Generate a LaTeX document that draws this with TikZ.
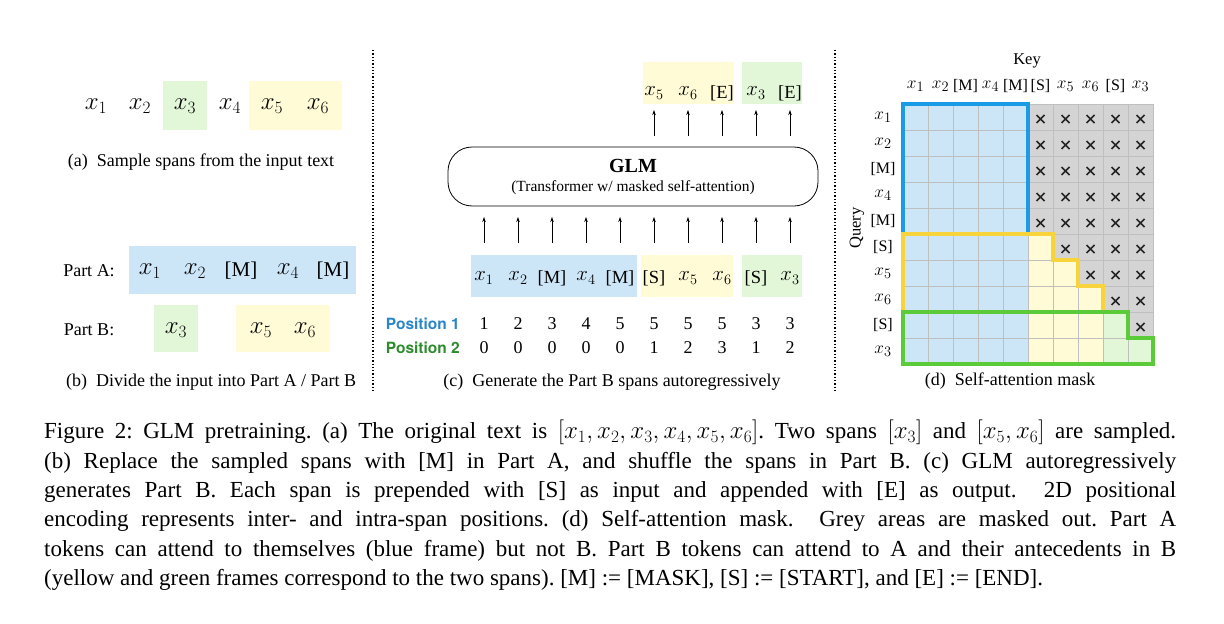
\documentclass[tikz,border=0pt]{standalone}
\usepackage{amsmath}
\usepackage{fontspec}
\setmainfont{Liberation Serif}
\newfontfamily\possans{TeX Gyre Heros}
\usetikzlibrary{arrows.meta}
\DeclareMathSizes{21}{25}{17.5}{14}
\DeclareMathSizes{18.5}{22}{15.5}{12}
\DeclareMathSizes{16}{19}{13.5}{11}
\DeclareMathSizes{23}{26}{18.5}{14}
\definecolor{bfill}{HTML}{CCE6F8}
\definecolor{yfill}{HTML}{FFFBD6}
\definecolor{gfill}{HTML}{E2F7D8}
\definecolor{grey}{HTML}{D4D4D4}
\definecolor{bframe}{HTML}{1A9BE6}
\definecolor{yframe}{HTML}{F7D43C}
\definecolor{gframe}{HTML}{5CCB3A}
\definecolor{pos1}{HTML}{2A86C8}
\definecolor{pos2}{HTML}{2E8B2E}
\tikzset{
 tok/.style={font=\fontsize{21}{24}\selectfont, inner sep=0pt, anchor=center},
 sm/.style={font=\fontsize{18.5}{22}\selectfont, inner sep=0pt},
 captxt/.style={font=\fontsize{18}{21}\selectfont, inner sep=0pt},
 lab/.style={font=\fontsize{16}{19}\selectfont, inner sep=0pt},
 arr/.style={-{Stealth[length=5pt,width=3.5pt]}, line width=0.7pt},
 sep/.style={dotted, line width=1.3pt},
 frm/.style={line width=3.5pt, line join=miter},
 xmark/.style={line width=1.5pt, black!85}
}
\begin{document}
\frenchspacing
\begin{tikzpicture}[x=1pt,y=-1pt]
\useasboundingbox (0,0) rectangle (1224,624);
% separators
\draw[sep] (373,50) -- (373,392);
\draw[sep] (835,50) -- (835,392);
% (a)
\fill[gfill] (163,81) rectangle (207,130);
\fill[yfill] (249,81) rectangle (342,130);
\node[tok] (a1) at (96,106) {$x_1$};
\node[tok] (a2) at (140,106) {$x_2$};
\node[tok] (a3) at (185,106) {$x_3$};
\node[tok] (a4) at (230,106) {$x_4$};
\node[tok] (a5) at (272,106) {$x_5$};
\node[tok] (a6) at (318,106) {$x_6$};
\node[captxt] (capa) at (201,162) {(a)\ \ Sample spans from the input text};
% (b)
\fill[bfill] (129,246) rectangle (356,294);
\node[captxt] (pa) at (89,271) {Part A:};
\node[tok] (b1) at (150,271) {$x_1$};
\node[tok] (b2) at (195,271) {$x_2$};
\node[tok] (b3) at (241,271) {[M]};
\node[tok] (b4) at (288,271) {$x_4$};
\node[tok] (b5) at (333,271) {[M]};
\node[captxt] (pb) at (89,330) {Part B:};
\fill[gfill] (154,305) rectangle (198,352);
\fill[yfill] (236,305) rectangle (330,352);
\node[tok] (b6) at (176,330) {$x_3$};
\node[tok] (b7) at (261,330) {$x_5$};
\node[tok] (b8) at (305,330) {$x_6$};
\node[captxt] (capb) at (211,382) {(b)\ \ Divide the input into Part A / Part B};
% (c)
\fill[bfill] (471,255) rectangle (637,297);
\fill[yfill] (641,255) rectangle (733,297);
\fill[gfill] (742,255) rectangle (802,297);
\fill[yfill] (643,62) rectangle (734,104);
\fill[gfill] (742,62) rectangle (802,104);
\node[draw, line width=0.8pt, rounded corners=24pt, minimum width=370pt, minimum height=59pt] (glm) at (633,176.5) {};
\node[font=\fontsize{20}{23}\selectfont\bfseries, inner sep=0pt] (glmt) at (633,166) {GLM};
\node[font=\fontsize{15.5}{18}\selectfont, inner sep=0pt] (glms) at (633,188) {(Transformer w/ masked self-attention)};
\foreach \i/\t/\p/\q in {1/$x_1$/1/0,2/$x_2$/2/0,3/[M]/3/0,4/$x_4$/4/0,5/[M]/5/0,6/[S]/5/1,7/$x_5$/5/2,8/$x_6$/5/3,9/[S]/3/1,10/$x_3$/3/2}{
  \pgfmathsetmacro\xx{484+34*(\i-1)}
  \node[sm] (in\i) at (\xx,278) {\t};
  \coordinate (ia\i) at (\xx,243);
  \coordinate (ib\i) at (\xx,217);
  \draw[arr] (ia\i) -- (ib\i);
  \node[captxt] (p1\i) at (\xx,324) {\p};
  \node[captxt] (p2\i) at (\xx,348) {\q};
}
\foreach \i/\t in {6/$x_5$,7/$x_6$,8/[E],9/$x_3$,10/[E]}{
  \pgfmathsetmacro\xx{484+34*(\i-1)}
  \coordinate (oa\i) at (\xx,136);
  \coordinate (ob\i) at (\xx,110);
  \draw[arr] (oa\i) -- (ob\i);
  \node[sm] (out\i) at (\xx,93) {\t};
}
\node[font=\possans\bfseries\fontsize{15.5}{18}\selectfont, text=pos1, anchor=east, inner sep=0pt] (pl1) at (460,324) {Position 1};
\node[font=\possans\bfseries\fontsize{15.5}{18}\selectfont, text=pos2, anchor=east, inner sep=0pt] (pl2) at (460,348) {Position 2};
\node[captxt] (capc) at (612,382) {(c)\ \ Generate the Part B spans autoregressively};
% (d)
\foreach \r/\a in {1/5,2/5,3/5,4/5,5/5,6/6,7/7,8/8,9/9,10/10}{
 \foreach \c in {1,...,10}{
  \pgfmathsetmacro\xl{903+25*(\c-1)}
  \pgfmathsetmacro\yt{104+26*(\r-1)}
  \ifnum\c>\a
    \fill[grey] (\xl,\yt) rectangle ++(25,26);
    \draw[xmark] (\xl+8.5,\yt+11) -- ++(8,8) (\xl+16.5,\yt+11) -- ++(-8,8);
  \else\ifnum\c<6
    \fill[bfill] (\xl,\yt) rectangle ++(25,26);
  \else\ifnum\c<9
    \fill[yfill] (\xl,\yt) rectangle ++(25,26);
  \else
    \fill[gfill] (\xl,\yt) rectangle ++(25,26);
  \fi\fi\fi
 }
}
\foreach \k in {0,...,10}{
  \draw[black!25, line width=0.4pt] (903+25*\k,104) -- (903+25*\k,364);
  \draw[black!25, line width=0.4pt] (903,104+26*\k) -- (1153,104+26*\k);
}
\draw[frm, bframe] (903,104) rectangle (1028,234);
\draw[frm, yframe] (903,234) -- (1053,234) -- (1053,260) -- (1078,260) -- (1078,286) -- (1103,286) -- (1103,312) -- (903,312) -- cycle;
\draw[frm, gframe] (903,312) -- (1128,312) -- (1128,338) -- (1153,338) -- (1153,364) -- (903,364) -- cycle;
\foreach \i/\t in {1/$x_1$,2/$x_2$,3/[M],4/$x_4$,5/[M],6/[S],7/$x_5$,8/$x_6$,9/[S],10/$x_3$}{
  \node[lab] (k\i) at (915.5+25*\i-25,86) {\t};
  \node[lab] (q\i) at (883,117+26*\i-26) {\t};
}
\node[font=\fontsize{16.5}{19}\selectfont, inner sep=0pt] (key) at (1027,61) {Key};
\node[font=\fontsize{16.5}{19}\selectfont, inner sep=0pt, rotate=90] (query) at (857,228) {Query};
\node[captxt] (capd) at (1010,381) {(d)\ \ Self-attention mask};
% caption
\node[anchor=north west, inner sep=0pt, text width=1132pt, align=justify, font=\fontsize{23}{29.3}\selectfont] (caption) at (44,420) {Figure 2: GLM pretraining. (a) The original text is $[x_1, x_2, x_3, x_4, x_5, x_6]$. Two spans $[x_3]$ and $[x_5, x_6]$ are sampled.\linebreak
(b) Replace the sampled spans with [M] in Part A, and shuffle the spans in Part B. (c) GLM autoregressively\linebreak
generates Part B. Each span is prepended with [S] as input and appended with [E] as output. \ 2D positional\linebreak
encoding represents inter- and intra-span positions. (d) Self-attention mask. \ Grey areas are masked out. Part A\linebreak
tokens can attend to themselves (blue frame) but not B. Part B tokens can attend to A and their antecedents in B\linebreak
(yellow and green frames correspond to the two spans). [M] := [MASK], [S] := [START], and [E] := [END].};
\end{tikzpicture}
\end{document}
